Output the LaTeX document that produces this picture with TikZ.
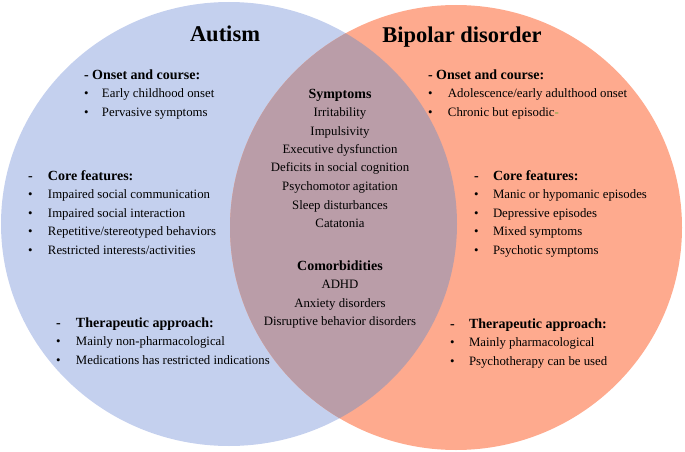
\documentclass[tikz,border=0pt]{standalone}
\usepackage{fontspec}
\setmainfont{Liberation Serif}
\usepackage{xcolor}
\definecolor{autismblue}{RGB}{196,208,238}
\definecolor{bipolarsalmon}{RGB}{254,170,142}
\definecolor{overlapmauve}{RGB}{186,157,168}
\definecolor{dashgreen}{RGB}{110,170,60}
\newcommand{\blockhead}{\fontsize{14}{18.5}\selectfont\bfseries}

\begin{document}
\begin{tikzpicture}[x=1pt, y=-1pt,
    every node/.style={inner sep=0pt, outer sep=0pt, font=\fontsize{12.8}{18.5}\selectfont},
    settitle/.style={font=\fontsize{22.5}{27}\selectfont\bfseries, anchor=base},
    listbox/.style={anchor=base west},
    sharedbox/.style={anchor=base}]
    \useasboundingbox (0,0) rectangle (685,452);

    % Sets
    \fill[autismblue] (229,224) ellipse [x radius=228pt, y radius=222pt];
    \fill[bipolarsalmon] (456,227.5) ellipse [x radius=226pt, y radius=222.5pt];
    \begin{scope}
        \clip (229,224) ellipse [x radius=228pt, y radius=222pt];
        \fill[overlapmauve] (456,227.5) ellipse [x radius=226pt, y radius=222.5pt];
    \end{scope}

    % Titles
    \node[settitle] (autism) at (225,42) {Autism};
    \node[settitle] (bipolar) at (462,43) {Bipolar disorder};

    % Autism
    \node[listbox] (aonset) at (84,79) {\begin{tabular}[t]{@{}p{18pt}@{}l@{}}
        \multicolumn{2}{@{}l@{}}{\blockhead - Onset and course:}\\
        \textbullet & Early childhood onset\\
        \textbullet & Pervasive symptoms
    \end{tabular}};
    \node[listbox] (acore) at (28,180) {\begin{tabular}[t]{@{}p{20pt}@{}l@{}}
        \blockhead - & \blockhead Core features:\\
        \textbullet & Impaired social communication\\
        \textbullet & Impaired social interaction\\
        \textbullet & Repetitive/stereotyped behaviors\\
        \textbullet & Restricted interests/activities
    \end{tabular}};
    \node[listbox] (atherapy) at (56,327) {\begin{tabular}[t]{@{}p{20pt}@{}l@{}}
        \blockhead - & \blockhead Therapeutic approach:\\
        \textbullet & Mainly non-pharmacological\\
        \textbullet & Medications has restricted indications
    \end{tabular}};

    % Bipolar disorder
    \node[listbox] (bonset) at (428,79) {\begin{tabular}[t]{@{}p{20pt}@{}l@{}}
        \multicolumn{2}{@{}l@{}}{\blockhead - Onset and course:}\\
        \textbullet & Adolescence/early adulthood onset\\
        \textbullet & Chronic but episodic\textcolor{dashgreen}{-}
    \end{tabular}};
    \node[listbox] (bcore) at (474,180) {\begin{tabular}[t]{@{}p{19pt}@{}l@{}}
        \blockhead - & \blockhead Core features:\\
        \textbullet & Manic or hypomanic episodes\\
        \textbullet & Depressive episodes\\
        \textbullet & Mixed symptoms\\
        \textbullet & Psychotic symptoms
    \end{tabular}};
    \node[listbox] (btherapy) at (450,328) {\begin{tabular}[t]{@{}p{19pt}@{}l@{}}
        \blockhead - & \blockhead Therapeutic approach:\\
        \textbullet & Mainly pharmacological\\
        \textbullet & Psychotherapy can be used
    \end{tabular}};

    % Shared
    \node[sharedbox] (symptoms) at (340,98) {\begin{tabular}[t]{@{}c@{}}
        \blockhead Symptoms\\
        Irritability\\
        Impulsivity\\
        Executive dysfunction\\
        Deficits in social cognition\\
        Psychomotor agitation\\
        Sleep disturbances\\
        Catatonia
    \end{tabular}};
    \node[sharedbox] (comorbid) at (340,270) {\begin{tabular}[t]{@{}c@{}}
        \blockhead Comorbidities\\
        ADHD\\
        Anxiety disorders\\
        Disruptive behavior disorders
    \end{tabular}};
\end{tikzpicture}
\end{document}
